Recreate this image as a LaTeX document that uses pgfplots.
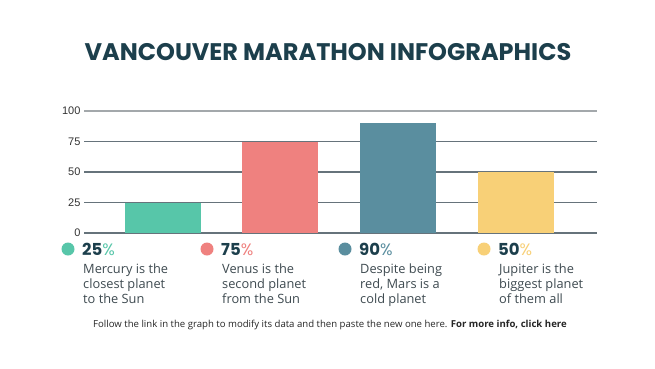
\documentclass[border=0pt]{standalone}
\usepackage{pgfplots}
\pgfplotsset{compat=1.18}
\usepackage{fontspec}
\setmainfont{Open Sans}
\newfontfamily\titlefont{Poppins}
\newfontfamily\tickfont{Liberation Sans}
\definecolor{titleC}{HTML}{1C3F4C}
\definecolor{gridC}{HTML}{66737B}
\definecolor{gridTop}{HTML}{A3A8AB}
\definecolor{tickC}{HTML}{333333}
\definecolor{descC}{HTML}{3E4A50}
\definecolor{cGreen}{HTML}{57C6A9}
\definecolor{cRed}{HTML}{EF817F}
\definecolor{cBlue}{HTML}{5A8E9F}
\definecolor{cYellow}{HTML}{F8D077}
\begin{document}
\begin{tikzpicture}[x=1pt,y=1pt]
\useasboundingbox[fill=white] (0,0) rectangle (655,-368);
\node[anchor=center,text=titleC,font=\titlefont\bfseries\fontsize{24}{27}\selectfont] at (328,-52) {VANCOUVER MARATHON INFOGRAPHICS};
\begin{axis}[
  at={(84pt,-233pt)}, anchor=south west,
  scale only axis, width=513pt, height=122pt,
  xmin=-0.67, xmax=3.69, ymin=0, ymax=100,
  axis line style={draw=none},
  xtick=\empty,
  ytick={0,25,50,75},
  extra y ticks={100},
  extra y tick style={major grid style={color=gridTop,line width=1.2pt}},
  ymajorgrids,
  major grid style={color=gridC,line width=1.2pt},
  tick style={draw=none},
  yticklabel style={font=\tickfont\fontsize{11}{13}\selectfont, text=tickC},
  /pgf/number format/assume math mode=true,
  ybar, bar width=76pt,
  clip=false,
]
\addplot[fill=cGreen, draw=none, bar shift=0pt] coordinates {(0,25)};
\addplot[fill=cRed, draw=none, bar shift=0pt] coordinates {(1,75)};
\addplot[fill=cBlue, draw=none, bar shift=0pt] coordinates {(2,90)};
\addplot[fill=cYellow, draw=none, bar shift=0pt] coordinates {(3,50)};
\end{axis}
% legend items
\foreach \cx/\col/\val/\txt in {68/cGreen/25/{Mercury is the\\closest planet\\to the Sun},
                               207/cRed/75/{Venus is the\\second planet\\from the Sun},
                               345/cBlue/90/{Despite being\\red, Mars is a\\cold planet},
                               484/cYellow/50/{Jupiter is the\\biggest planet\\of them all}} {
  \fill[\col] (\cx,-249) circle (6.5);
  \node[anchor=west,inner sep=0,font=\titlefont\bfseries\fontsize{16.5}{19}\selectfont,text=titleC] at (\cx+14,-249.5) {\val\textcolor{\col}{\normalfont\titlefont\%}};
  \node[anchor=north west,align=left,inner sep=0,font=\fontsize{12.8}{15}\selectfont,text=descC] at (\cx+15,-263.5) {\txt};
}
\node[font=\fontsize{9.6}{11}\selectfont,text=black!85] at (330,-325) {Follow the link in the graph to modify its data and then paste the new one here. \textbf{For more info, click here}};
\end{tikzpicture}
\end{document}
